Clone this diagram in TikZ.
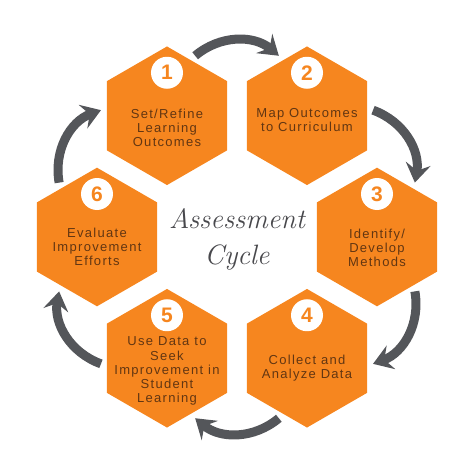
\documentclass[tikz,border=0pt]{standalone}
\usepackage{fontspec}
\usetikzlibrary{shapes.geometric,arrows.meta}
\newfontfamily\hexfont[LetterSpace=10]{Liberation Sans}
\newfontfamily\numfont{Liberation Sans}
\definecolor{hexorange}{RGB}{246,134,31}
\definecolor{arrowgray}{RGB}{84,86,90}
\definecolor{textbrown}{RGB}{98,54,18}
\definecolor{titlegray}{RGB}{72,72,76}

\begin{document}
\begin{tikzpicture}[x=1pt, y=1pt, line join=round, >={Stealth[length=19pt,width=25pt,inset=7pt]}]
	\tikzset{hex/.style={regular polygon, regular polygon sides=6, regular polygon rotate=30, minimum size=138.6pt, inner sep=0pt, outer sep=0pt, fill=hexorange},
		numdot/.style={circle, fill=white, minimum size=32pt, inner sep=0pt, text=hexorange, font=\numfont\bfseries\fontsize{21}{21}\selectfont},
		hextext/.style={align=center, inner sep=0pt, text=textbrown, font=\hexfont\fontsize{13}{14.2}\selectfont},
		cyclearrow/.style={->, draw=arrowgray, line width=9pt, line cap=butt}}
	\useasboundingbox (-237,-237) rectangle (237,237);
	% hexagons and their numbers
	\foreach \i/\a in {1/120,2/60,3/0,4/-60,5/-120,6/180} {
		\node[hex] (h\i) at (\a:140) {};
		\node[numdot] (n\i) at ([yshift=43pt]h\i.center) {\i};
	}
	% step texts
	\foreach \i/\dy/\txt in {1/-12/{Set/Refine\\Learning\\Outcomes}, 2/-4/{Map Outcomes\\to Curriculum}, 3/-11/{Identify/\\Develop\\Methods}, 4/-10/{Collect and\\Analyze Data}, 5/-13/{Use Data to\\Seek\\Improvement in\\Student\\Learning}, 6/-10/{Evaluate\\Improvement\\Efforts}}
		\node[hextext] (t\i) at ([yshift=\dy pt]h\i.center) {\txt};
	% centre title
	\node[text=titlegray, align=center, font=\itshape\fontsize{28}{36}\selectfont] (title) at (0,-2) {Assessment\\Cycle};
	% arrows between the steps
	\foreach \g [count=\i] in {90,30,-30,-90,-150,-210} {
		\coordinate (s\i) at ({\g+13}:186);
		\coordinate (e\i) at ({\g-13}:186);
		\draw[cyclearrow] (s\i) to[bend left=40] (e\i);
	}
\end{tikzpicture}
\end{document}
